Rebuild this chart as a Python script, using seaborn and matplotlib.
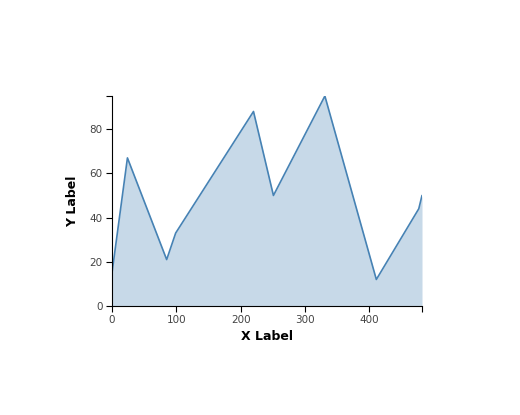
import numpy as np
import pandas as pd
import matplotlib
matplotlib.use("Agg")
import matplotlib.pyplot as plt
import seaborn as sns

# values
x_vals = [0, 24, 85, 99, 220, 251, 331, 411, 477, 482]
y_vals = [15, 67, 21, 33, 88, 50, 95, 12, 44, 50]
x_ticks = [0, 100, 200, 300, 400]
y_ticks = [0, 20, 40, 60, 80]

df = pd.DataFrame({"x": x_vals, "y": y_vals})

sns.set_style("ticks")
plt.rcParams["font.family"] = ["DejaVu Sans"]

fig = plt.figure(figsize=(5.2, 4.15), dpi=100)
ax = fig.add_axes([112 / 520, 1 - 306 / 415, 310 / 520, 210 / 415])

ax.fill_between(df["x"], df["y"], 0, color="steelblue", alpha=0.3, linewidth=0)
sns.lineplot(data=df, x="x", y="y", ax=ax, color="steelblue", linewidth=1.2, sort=False)

ax.set_xlim(0, df["x"].max())
ax.set_ylim(0, df["y"].max())
ax.set_xticks(x_ticks)
ax.set_yticks(y_ticks)
# outer ticks at the ends of each axis
ax.set_xticks([df["x"].max()], minor=True)
ax.set_yticks([df["y"].max()], minor=True)
ax.tick_params(which="both", direction="out", length=4.3, width=0.8, color="black",
               labelsize=7.5, labelcolor="#444444", pad=2.5)

for s in ["top", "right"]:
    ax.spines[s].set_visible(False)
for s in ["left", "bottom"]:
    ax.spines[s].set_color("black")
    ax.spines[s].set_linewidth(0.8)

ax.set_xlabel("X Label", fontsize=9, fontweight="bold", color="black", va="center")
ax.set_ylabel("Y Label", fontsize=9, fontweight="bold", color="black", va="center")
ax.xaxis.set_label_coords(0.5, (306 - 336) / 210)
ax.yaxis.set_label_coords((73 - 112) / 310, 0.5)

fig.savefig("out.png", dpi=100)
